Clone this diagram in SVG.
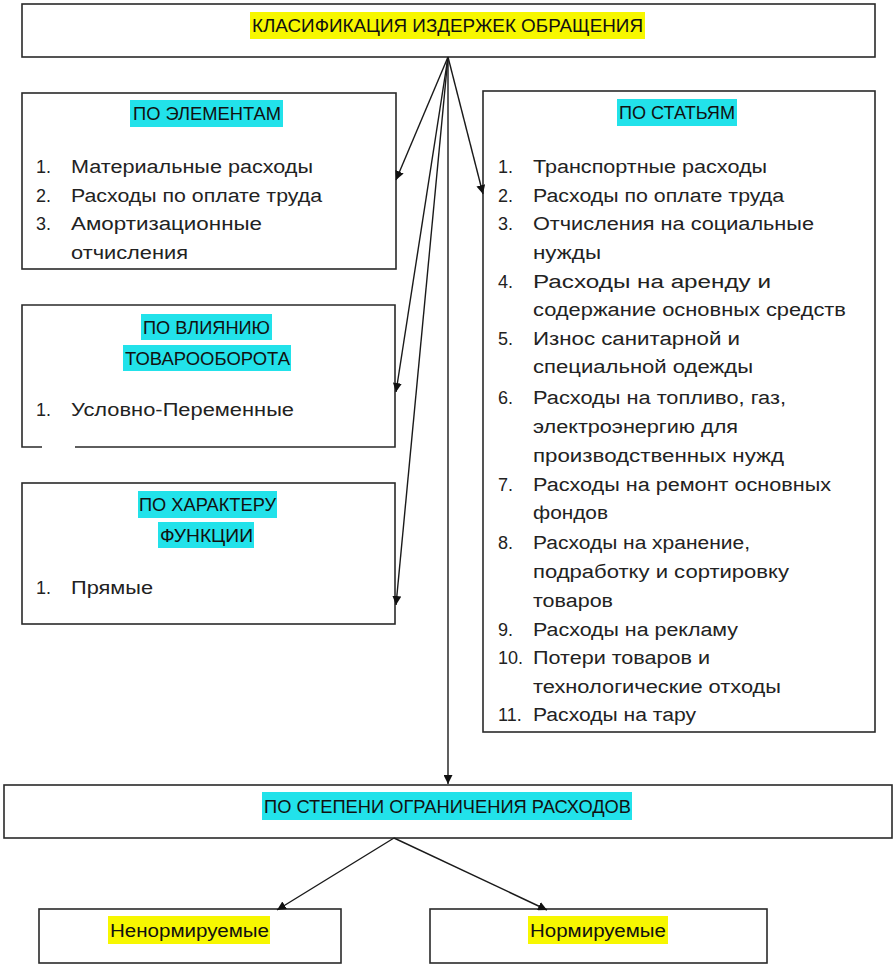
<svg xmlns="http://www.w3.org/2000/svg" width="896" height="972" viewBox="0 0 896 972">
<style>
.box{fill:#fff;stroke:#2a2a2a;stroke-width:1.6}
.hy{fill:#f7f700}
.hc{fill:#22e2ea}
.hd{font-family:"Liberation Sans",Arial,sans-serif;font-size:18px;fill:#111}
.tx{font-family:"Liberation Sans",Arial,sans-serif;font-size:18px;fill:#222}
.cn{stroke:#1a1a1a;stroke-width:1.4;fill:none;marker-end:url(#ah)}
</style>
<defs>
<marker id="ah" viewBox="0 0 10 10" refX="10" refY="5" markerWidth="9" markerHeight="9" markerUnits="userSpaceOnUse" orient="auto">
<path d="M0,0 L10,5 L0,10 z" fill="#111"/>
</marker>
</defs>
<rect width="896" height="972" fill="#fff"/>

<g id="top">
<rect class="box" x="22" y="4" width="853" height="53"/>
<rect class="hy" x="250" y="12" width="395" height="27"/>
<text class="hd" x="252" y="32" textLength="391" lengthAdjust="spacingAndGlyphs">КЛАСИФИКАЦИЯ ИЗДЕРЖЕК ОБРАЩЕНИЯ</text>
</g>

<g id="elements">
<rect class="box" x="22" y="93" width="374" height="176"/>
<rect class="hc" x="130" y="100" width="153" height="27"/>
<text class="hd" x="133" y="120" textLength="148" lengthAdjust="spacingAndGlyphs">ПО ЭЛЕМЕНТАМ</text>
<text class="tx" x="36" y="173">1.</text><text class="tx" x="71" y="173" textLength="242" lengthAdjust="spacingAndGlyphs">Материальные расходы</text>
<text class="tx" x="36" y="202">2.</text><text class="tx" x="71" y="202" textLength="251" lengthAdjust="spacingAndGlyphs">Расходы по оплате труда</text>
<text class="tx" x="36" y="230">3.</text><text class="tx" x="71" y="230" textLength="191" lengthAdjust="spacingAndGlyphs">Амортизационные</text>
<text class="tx" x="71" y="259" textLength="117" lengthAdjust="spacingAndGlyphs">отчисления</text>
</g>

<g id="turnover">
<path class="box" d="M42,447 H22 V305 H395 V447 H75"/>
<rect class="hc" x="141" y="314" width="131" height="26"/>
<text class="hd" x="143" y="334" textLength="127" lengthAdjust="spacingAndGlyphs">ПО ВЛИЯНИЮ</text>
<rect class="hc" x="123" y="345" width="168" height="26"/>
<text class="hd" x="125" y="365" textLength="165" lengthAdjust="spacingAndGlyphs">ТОВАРООБОРОТА</text>
<text class="tx" x="36" y="416">1.</text><text class="tx" x="71" y="416" textLength="223" lengthAdjust="spacingAndGlyphs">Условно-Переменные</text>
</g>

<g id="function">
<rect class="box" x="22" y="483" width="373" height="141"/>
<rect class="hc" x="138" y="491" width="139" height="27"/>
<text class="hd" x="139" y="511" textLength="137" lengthAdjust="spacingAndGlyphs">ПО ХАРАКТЕРУ</text>
<rect class="hc" x="158" y="522" width="96" height="26"/>
<text class="hd" x="160" y="542" textLength="93" lengthAdjust="spacingAndGlyphs">ФУНКЦИИ</text>
<text class="tx" x="36" y="594">1.</text><text class="tx" x="71" y="594" textLength="82" lengthAdjust="spacingAndGlyphs">Прямые</text>
</g>

<g id="articles">
<rect class="box" x="483" y="91" width="392" height="641"/>
<rect class="hc" x="617" y="99" width="120" height="27"/>
<text class="hd" x="619" y="119" textLength="116" lengthAdjust="spacingAndGlyphs">ПО СТАТЬЯМ</text>
<text class="tx" x="498" y="173">1.</text><text class="tx" x="533" y="173" textLength="234" lengthAdjust="spacingAndGlyphs">Транспортные расходы</text>
<text class="tx" x="498" y="202">2.</text><text class="tx" x="533" y="202" textLength="251" lengthAdjust="spacingAndGlyphs">Расходы по оплате труда</text>
<text class="tx" x="498" y="230">3.</text><text class="tx" x="533" y="230" textLength="281" lengthAdjust="spacingAndGlyphs">Отчисления на социальные</text>
<text class="tx" x="533" y="259" textLength="68" lengthAdjust="spacingAndGlyphs">нужды</text>
<text class="tx" x="498" y="288">4.</text><text class="tx" x="533" y="288" textLength="238" lengthAdjust="spacingAndGlyphs">Расходы на аренду и</text>
<text class="tx" x="533" y="316" textLength="313" lengthAdjust="spacingAndGlyphs">содержание основных средств</text>
<text class="tx" x="498" y="345">5.</text><text class="tx" x="533" y="345" textLength="207" lengthAdjust="spacingAndGlyphs">Износ санитарной и</text>
<text class="tx" x="533" y="373" textLength="220" lengthAdjust="spacingAndGlyphs">специальной одежды</text>
<text class="tx" x="498" y="404">6.</text><text class="tx" x="533" y="404" textLength="253" lengthAdjust="spacingAndGlyphs">Расходы на топливо, газ,</text>
<text class="tx" x="533" y="433" textLength="205" lengthAdjust="spacingAndGlyphs">электроэнергию для</text>
<text class="tx" x="533" y="462" textLength="251" lengthAdjust="spacingAndGlyphs">производственных нужд</text>
<text class="tx" x="498" y="491">7.</text><text class="tx" x="533" y="491" textLength="298" lengthAdjust="spacingAndGlyphs">Расходы на ремонт основных</text>
<text class="tx" x="533" y="519" textLength="75" lengthAdjust="spacingAndGlyphs">фондов</text>
<text class="tx" x="498" y="549">8.</text><text class="tx" x="533" y="549" textLength="217" lengthAdjust="spacingAndGlyphs">Расходы на хранение,</text>
<text class="tx" x="533" y="578" textLength="256" lengthAdjust="spacingAndGlyphs">подработку и сортировку</text>
<text class="tx" x="533" y="607" textLength="80" lengthAdjust="spacingAndGlyphs">товаров</text>
<text class="tx" x="498" y="636">9.</text><text class="tx" x="533" y="636" textLength="205" lengthAdjust="spacingAndGlyphs">Расходы на рекламу</text>
<text class="tx" x="498" y="664">10.</text><text class="tx" x="533" y="664" textLength="177" lengthAdjust="spacingAndGlyphs">Потери товаров и</text>
<text class="tx" x="533" y="693" textLength="248" lengthAdjust="spacingAndGlyphs">технологические отходы</text>
<text class="tx" x="498" y="721">11.</text><text class="tx" x="533" y="721" textLength="163" lengthAdjust="spacingAndGlyphs">Расходы на тару</text>
</g>

<g id="limit">
<rect class="box" x="4" y="785" width="888" height="53"/>
<rect class="hc" x="262" y="792" width="370" height="28"/>
<text class="hd" x="264" y="813" textLength="367" lengthAdjust="spacingAndGlyphs">ПО СТЕПЕНИ ОГРАНИЧЕНИЯ РАСХОДОВ</text>
</g>

<g id="nonnorm">
<rect class="box" x="39" y="909" width="302" height="54"/>
<rect class="hy" x="108" y="916" width="162" height="28"/>
<text class="hd" x="110" y="937" textLength="159" lengthAdjust="spacingAndGlyphs">Ненормируемые</text>
</g>

<g id="norm">
<rect class="box" x="430" y="909" width="337" height="54"/>
<rect class="hy" x="528" y="916" width="140" height="28"/>
<text class="hd" x="530" y="937" textLength="136" lengthAdjust="spacingAndGlyphs">Нормируемые</text>
</g>

<g id="connectors">
<line class="cn" x1="448" y1="57" x2="396" y2="180"/>
<line class="cn" x1="448" y1="57" x2="483" y2="194"/>
<line class="cn" x1="448" y1="57" x2="396" y2="392"/>
<line class="cn" x1="448" y1="57" x2="396" y2="605"/>
<line class="cn" x1="448" y1="57" x2="448" y2="784"/>
<line class="cn" x1="394" y1="838" x2="277" y2="910"/>
<line class="cn" x1="394" y1="838" x2="547" y2="910"/>
</g>
</svg>
